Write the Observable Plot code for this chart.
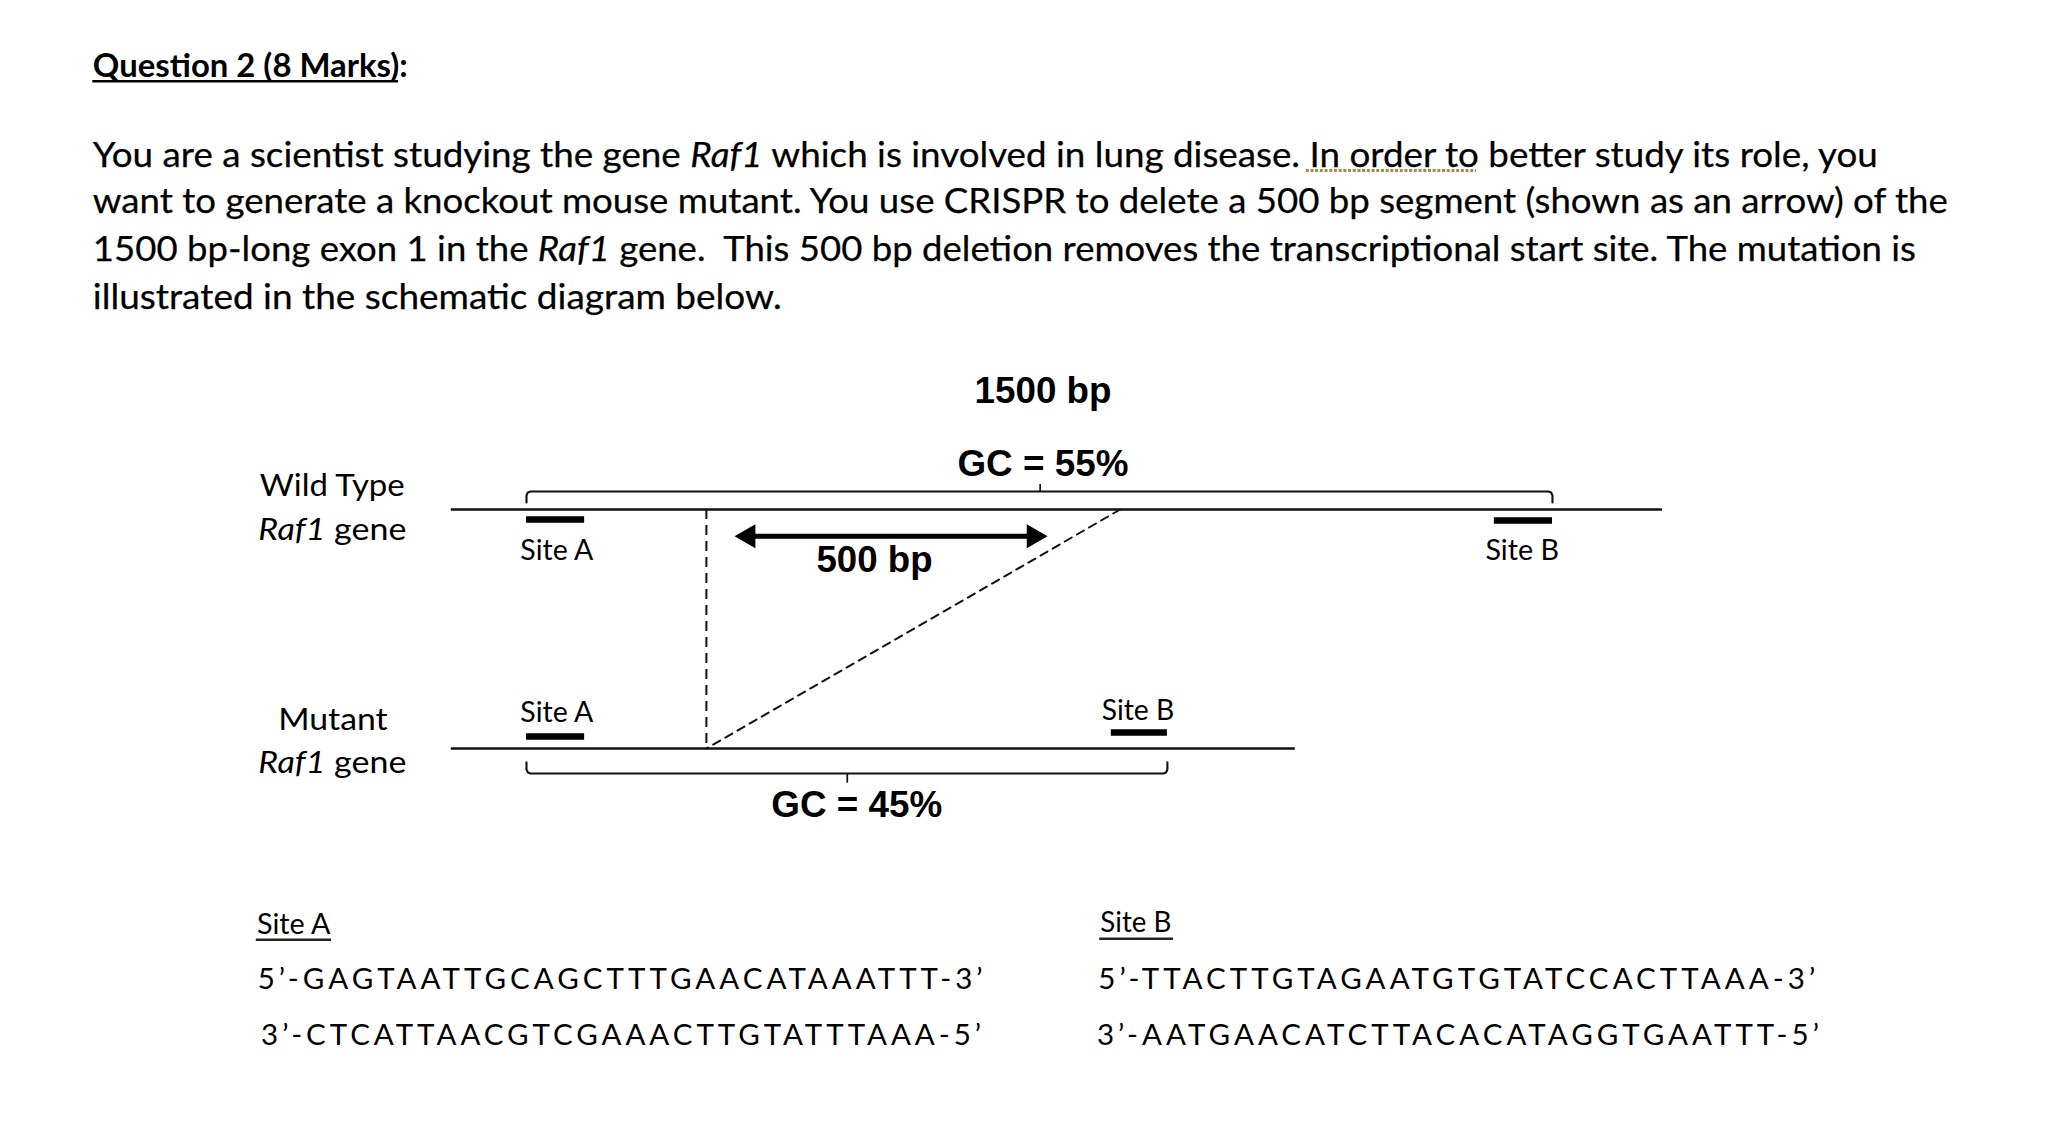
<!DOCTYPE html>
<html><head><meta charset="utf-8">
<script src="https://cdn.jsdelivr.net/npm/d3@7"></script>
<script src="https://cdn.jsdelivr.net/npm/@observablehq/plot@0.6"></script>
<style>html,body{margin:0;padding:0;background:#fff;overflow:hidden}</style>
</head><body><div id="chart"></div>
<script>
// ---- text content ----
const questionTitle = "Question 2 (8 Marks):";
const paragraphLines = [
  "You are a scientist studying the gene *Raf1* which is involved in lung disease. In order to better study its role, you",
  "want to generate a knockout mouse mutant. You use CRISPR to delete a 500 bp segment (shown as an arrow) of the",
  "1500 bp-long exon 1 in the *Raf1* gene.  This 500 bp deletion removes the transcriptional start site. The mutation is",
  "illustrated in the schematic diagram below."
];
const trackLabels = ["Wild Type", "*Raf1* gene", "Mutant", "*Raf1* gene"];
const siteLabels = ["Site A", "Site B", "Site A", "Site B"];
const boldLabels = ["1500 bp", "GC = 55%", "500 bp", "GC = 45%"];
const seqHeadings = ["Site A", "Site B"];
const seqLines = [
  "5\u2019-GAGTAATTGCAGCTTTGAACATAAATTT-3\u2019",
  "3\u2019-CTCATTAACGTCGAAACTTGTATTTAAA-5\u2019",
  "5\u2019-TTACTTGTAGAATGTGTATCCACTTAAA-3\u2019",
  "3\u2019-AATGAACATCTTACACATAGGTGAATTT-5\u2019"
];

// ---- diagram values, in base pairs along the gene ----
const wildTypeLine = [-110, 1661];
const mutantLine = [-110, 1124];
const wildTypeExon = [0, 1500];
const wildTypeExonMid = 751;
const mutantExon = [0, 937];
const mutantExonMid = 469;
const siteBars = [[0, 85], [1415, 1500], [0, 85], [855, 937]];
const deletionArrow = [304, 762];
const cutStart = 263;
const cutEndWildType = 868;

// ---- layout: x in bp, y in rows (one row = ten pixels) ----
const rowWT = 50.9, rowMut = 74.8, rowBracketWT = 49.1, rowBracketMut = 77.3;
const siteBarRows = [51.9, 52.0, 73.6, 73.2];
const textSpecs = [];
function addText(group, list, xs, ys, ws) { list.forEach((t, i) => textSpecs.push({group, t, x: xs[i], y: ys[i], w: ws[i]})); }
addText("title", [questionTitle], [-634], [7.67], [315]);
addText("body", paragraphLines, [-634, -634, -634, -634], [16.67, 21.27, 26.07, 30.8], [1785, 1855, 1823, 689]);
addText("track", trackLabels, [-390, -392, -363, -392], [49.5, 53.95, 72.9, 77.25], [145, 148, 109.5, 148]);
addText("site", siteLabels, [-9, 1402, -9, 841], [55.9, 55.9, 72.17, 71.9], [73, 73.5, 73, 72.5]);
addText("bold", boldLabels, [655, 630, 424, 358], [40.27, 47.5, 57.17, 81.6], [137, 171, 116, 171]);
addText("seqHead", seqHeadings, [-394, 839], [93.33, 93.17], [73.5, 71]);
addText("seq", seqLines, [-393, -388, 836, 834], [98.8, 104.45, 98.8, 104.4], [725, 720, 717, 722]);

const groupStyle = {
  title: {fontFamily: "Lato", fontSize: 33, fontWeight: 700},
  body: {fontFamily: "Lato", fontSize: 35, stroke: "#000", strokeWidth: 0.25},
  track: {fontFamily: "Lato", fontSize: 31.5},
  site: {fontFamily: "Lato", fontSize: 28},
  bold: {fontFamily: "Liberation Sans", fontSize: 36, fontWeight: 700},
  seqHead: {fontFamily: "Lato", fontSize: 28},
  seq: {fontFamily: "Lato", fontSize: 29.5}
};
const groups = ["title", "body", "track", "site", "bold", "seqHead", "seq"];
const ordered = groups.flatMap(g => textSpecs.filter(d => d.group === g));
const ink = "#111";

const bracketWT = [
  {x: 0, y: 50.2}, {x: 0, y: 49.5}, {x: 2, y: 49.2}, {x: 6, y: 49.1}, {x: 1494, y: 49.1}, {x: 1498, y: 49.2}, {x: 1500, y: 49.5}, {x: 1500, y: 50.2}
];
const bracketMut = [
  {x: 0, y: 76.17}, {x: 0, y: 76.9}, {x: 2, y: 77.2}, {x: 6, y: 77.3}, {x: 931, y: 77.3}, {x: 935, y: 77.2}, {x: 937, y: 76.9}, {x: 937, y: 76.17}
];

const chart = Plot.plot({
  width: 2066, height: 1130, margin: 0,
  style: {background: "#fff", color: ink},
  x: {domain: [-769, 2251.5], range: [0, 2066], axis: null},
  y: {domain: [0, 113], range: [0, 1130], axis: null},
  marks: [
    // gene lines
    Plot.ruleY([rowWT], {x1: wildTypeLine[0], x2: wildTypeLine[1], stroke: ink, strokeWidth: 2.4}),
    Plot.ruleY([rowMut], {x1: mutantLine[0], x2: mutantLine[1], stroke: ink, strokeWidth: 2.4}),
    // brackets
    Plot.line(bracketWT, {x: "x", y: "y", stroke: ink, strokeWidth: 2.1}),
    Plot.ruleX([wildTypeExonMid], {y1: 48.4, y2: rowBracketWT, stroke: ink, strokeWidth: 1.7}),
    Plot.line(bracketMut, {x: "x", y: "y", stroke: ink, strokeWidth: 2.1}),
    Plot.ruleX([mutantExonMid], {y1: rowBracketMut, y2: 78.27, stroke: ink, strokeWidth: 1.7}),
    // site bars
    ...siteBars.map((b, i) => Plot.ruleY([siteBarRows[i]], {x1: b[0], x2: b[1], stroke: "#000", strokeWidth: 6.5})),
    // deletion arrow
    Plot.ruleY([53.57], {x1: deletionArrow[0] + 15, x2: deletionArrow[1] - 15, stroke: "#000", strokeWidth: 5}),
    Plot.dot([deletionArrow[0]], {x: d => d, y: 53.57, symbol: "triangle", r: 8.9, rotate: -90, dx: 14, fill: "#000", stroke: "none"}),
    Plot.dot([deletionArrow[1]], {x: d => d, y: 53.57, symbol: "triangle", r: 8.9, rotate: 90, dx: -14, fill: "#000", stroke: "none"}),
    // dashed deletion guides
    Plot.ruleX([cutStart], {y1: rowWT, y2: rowMut, stroke: ink, strokeWidth: 2, strokeDasharray: "10 6"}),
    Plot.line([{x: cutEndWildType, y: rowWT}, {x: cutStart, y: rowMut}], {x: "x", y: "y", stroke: ink, strokeWidth: 2, strokeDasharray: "8 6"}),
    // title underline and spell-check underline
    Plot.ruleY([8.07], {x1: -634, x2: -187, stroke: "#000", strokeWidth: 2.5}),
    Plot.ruleY([17.0], {x1: 1140, x2: 1389, stroke: "#a58a4c", strokeWidth: 3, strokeDasharray: "3 1.7"}),
    Plot.ruleY([93.93], {x1: -395, x2: -285, stroke: "#222", strokeWidth: 2.5}),
    Plot.ruleY([93.83], {x1: 838, x2: 946, stroke: "#222", strokeWidth: 2.5}),
    // all text
    ...groups.map(g => Plot.text(ordered.filter(d => d.group === g), {
      x: "x", y: "y", text: "t", textAnchor: "start", lineAnchor: "bottom", fill: "#000", ...groupStyle[g]
    }))
  ]
});

// Mixed italics and exact run widths on the real text nodes.
chart.querySelectorAll("text").forEach((node, i) => {
  const spec = ordered[i];
  if (!spec) return;
  const raw = node.textContent;
  if (raw.includes("*")) {
    node.textContent = "";
    raw.split("*").forEach((part, k) => {
      const span = document.createElementNS("http://www.w3.org/2000/svg", "tspan");
      span.style.whiteSpace = "pre";
      if (k % 2) span.setAttribute("font-style", "italic");
      span.textContent = part;
      node.appendChild(span);
    });
  }
  node.style.whiteSpace = "pre";
  node.setAttribute("textLength", spec.w);
  node.setAttribute("lengthAdjust", spec.group === "seq" ? "spacing" : "spacingAndGlyphs");
});
document.getElementById("chart").appendChild(chart);
</script></body></html>
